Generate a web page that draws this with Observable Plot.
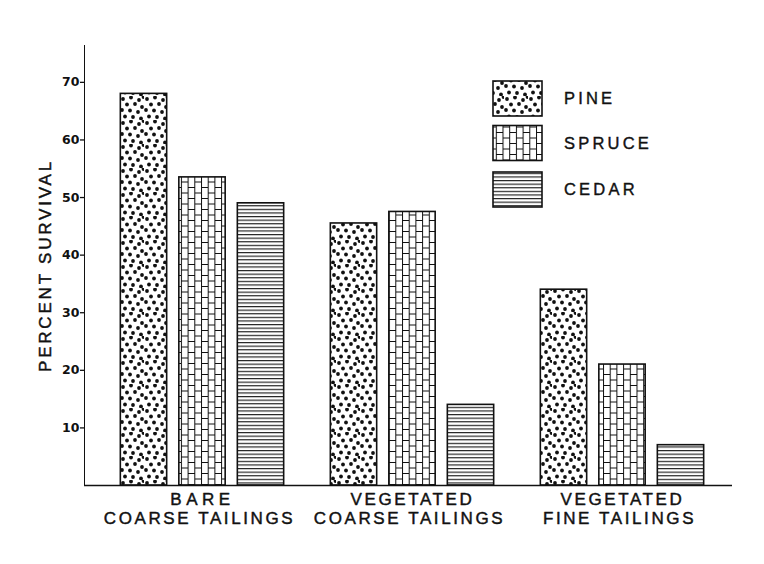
<!DOCTYPE html>
<html><head><meta charset="utf-8">
<script src="https://cdn.jsdelivr.net/npm/d3@7"></script>
<script src="https://cdn.jsdelivr.net/npm/@observablehq/plot@0.6"></script>
<style>
body{margin:0;background:#fff;}
#chart{position:relative;width:764px;height:564px;}
</style></head><body><div id="chart"></div>
<script>
// ---- data ----
const groups = ["Bare coarse tailings", "Vegetated coarse tailings", "Vegetated fine tailings"];
const groupLine1 = ["BARE", "VEGETATED", "VEGETATED"];
const groupLine2 = ["COARSE TAILINGS", "COARSE TAILINGS", "FINE TAILINGS"];
const species = ["PINE", "SPRUCE", "CEDAR"];
const pine = [68, 45.5, 34];
const spruce = [53.5, 47.5, 21];
const cedar = [49, 14, 7];
const yTicks = [10, 20, 30, 40, 50, 60, 70];
const yLabel = "PERCENT SURVIVAL";

const values = {PINE: pine, SPRUCE: spruce, CEDAR: cedar};
const rows = species.flatMap(s => groups.map((g, i) => ({group: g, species: s, value: values[s][i]})));
const patternId = {PINE: "pat-pine", SPRUCE: "pat-spruce", CEDAR: "pat-cedar"};

// ---- layout ----
const W = 764, H = 564, mL = 84, mR = 32, mT = 45, mB = 79;
const padOuter = 0.038;
const step = (W - mL - mR) / (groups.length + 2 * padOuter);
const barW = 47, barGap = 11.5;
function insets(i) {
  const c = (i - 1) * (barW + barGap);
  return {insetLeft: step / 2 + c - barW / 2, insetRight: step / 2 - c - barW / 2};
}
const ink = "#111";
const textFont = {fontFamily: "Liberation Sans", fontSize: 17, fontWeight: "normal", fill: ink, stroke: ink, strokeWidth: 0.45};

const chart = Plot.plot({
  width: W, height: H,
  marginLeft: mL, marginRight: mR, marginTop: mT, marginBottom: mB,
  x: {type: "band", domain: groups, paddingInner: 0, paddingOuter: padOuter, align: 0.72, axis: null},
  y: {domain: [0, 76.4], ticks: yTicks, tickSize: 4, tickPadding: 1, line: true, label: null, tickFormat: d => String(d)},
  style: {fontFamily: "DejaVu Sans", fontSize: "12px", fontWeight: "bold", color: ink, background: "#fff"},
  marks: [
    ...species.map((s, i) => Plot.barY(rows.filter(r => r.species === s), {
      x: "group", y: "value", fill: `url(#${patternId[s]})`, stroke: ink, strokeWidth: 1.6,
      ...insets(i)
    })),
    Plot.ruleY([0], {stroke: ink, strokeWidth: 1.5}),
    Plot.text(groups, {x: d => d, text: (d, i) => groupLine1[i], frameAnchor: "bottom", dy: 19.5, ...textFont}),
    Plot.text(groups, {x: d => d, text: (d, i) => groupLine2[i], frameAnchor: "bottom", dy: 38.5, dx: -3, ...textFont}),
    Plot.text([yLabel], {text: d => d, frameAnchor: "left", textAnchor: "middle", rotate: -90, dx: -38.5, ...textFont})
  ]
});

// ---- patterns ----
const svg = d3.select(chart);
const defs = svg.insert("defs", ":first-child");
// stipple (pine)
const pp = defs.append("pattern").attr("id", "pat-pine").attr("patternUnits", "userSpaceOnUse")
  .attr("width", 24).attr("height", 24);
pp.append("rect").attr("width", 24).attr("height", 24).attr("fill", "#fff");
const dots = [[3,3],[11,1.5],[19,4],[7,8.5],[15,8],[22,11],[2,14],[10,14.5],[18,16],[5,20.5],[13,21],[21,22.5],[23.5,1]];
dots.forEach(([x, y]) => pp.append("circle").attr("cx", x).attr("cy", y).attr("r", 1.9).attr("fill", ink));
// brick (spruce)
const bw = 6.7, bh = 11;
const ps = defs.append("pattern").attr("id", "pat-spruce").attr("patternUnits", "userSpaceOnUse")
  .attr("width", bw * 2).attr("height", bh);
ps.append("rect").attr("width", bw * 2).attr("height", bh).attr("fill", "#fff");
ps.append("path").attr("d",
  `M0.5,0V${bh} M${bw + 0.5},0V${bh} M0,0.5H${bw} M${bw},${bh / 2 + 0.5}H${bw * 2}`)
  .attr("stroke", ink).attr("stroke-width", 1).attr("fill", "none");
// horizontal lines (cedar)
const lh = 3.6;
const pc = defs.append("pattern").attr("id", "pat-cedar").attr("patternUnits", "userSpaceOnUse")
  .attr("width", 10).attr("height", lh);
pc.append("rect").attr("width", 10).attr("height", lh).attr("fill", "#fff");
pc.append("path").attr("d", `M0,0.6H10`).attr("stroke", ink).attr("stroke-width", 1.1);

// ---- text styling ----
svg.selectAll('g[aria-label="text"] text').each(function() {
  const t = this.textContent;
  let ls = 2.6;
  if (t === "BARE") ls = 4.5;
  if (t === yLabel) ls = 2.8;
  d3.select(this).style("letter-spacing", ls + "px");
});
svg.selectAll("text").filter(function() { return /^\d+$/.test(this.textContent); })
  .style("font-size", "12.5px").style("font-weight", "bold").style("font-family", "DejaVu Sans")
  .attr("font-size", 12.5).attr("font-weight", "bold");
svg.selectAll('g[aria-label="y-axis tick"]').attr("stroke-width", 1.3);

// ---- legend ----
const lg = svg.append("g").attr("aria-label", "legend");
const legX = 493, legW = 49, legH = 35, legTops = [81, 125.5, 172], textX = 564;
species.forEach((s, i) => {
  lg.append("rect").attr("x", legX).attr("y", legTops[i]).attr("width", legW).attr("height", legH)
    .attr("fill", `url(#${patternId[s]})`).attr("stroke", ink).attr("stroke-width", 1.6);
  lg.append("text").attr("x", textX).attr("y", legTops[i] + legH / 2).attr("dy", "0.35em")
    .attr("text-anchor", "start")
    .attr("font-family", "Liberation Sans").attr("font-size", 16.5).attr("font-weight", "normal")
    .attr("fill", ink).attr("stroke", ink).attr("stroke-width", 0.4)
    .style("letter-spacing", "3.2px").text(s);
});

document.getElementById("chart").appendChild(chart);
</script></body></html>
